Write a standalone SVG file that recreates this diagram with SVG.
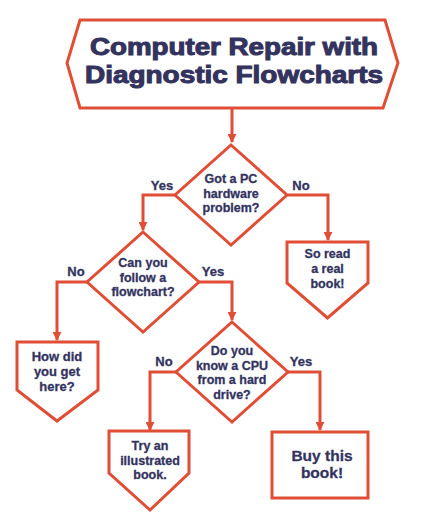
<svg xmlns="http://www.w3.org/2000/svg" width="428" height="518" viewBox="0 0 428 518">
<defs>
<marker id="arr" viewBox="0 0 10 10" refX="9" refY="5" markerWidth="3" markerHeight="3" orient="auto" markerUnits="strokeWidth">
<path d="M0,0 L10,5 L0,10 Z" fill="#E04E36"/>
</marker>
</defs>
<style>
.shape{fill:#fff;stroke:#E04E36;stroke-width:3;stroke-linejoin:miter}
.conn{fill:none;stroke:#E04E36;stroke-width:3;marker-end:url(#arr)}
.t{font-family:"Liberation Sans",Arial,sans-serif;font-weight:bold;fill:#33335E;text-anchor:middle}
.s{font-size:12.5px;stroke:#33335E;stroke-width:0.3}
.l{font-size:13px;stroke:#33335E;stroke-width:0.3}
.title{font-size:23px;stroke:#33335E;stroke-width:1}
</style>
<rect width="428" height="518" fill="#fff"/>
<g id="connectors">
<path class="conn" d="M232,108 V142"/>
<path class="conn" d="M175,195 H143 V230"/>
<path class="conn" d="M288,195 H328 V240"/>
<path class="conn" d="M87,282 H57 V340"/>
<path class="conn" d="M199,282 H232 V320"/>
<path class="conn" d="M176,372 H150 V430"/>
<path class="conn" d="M288,372 H320 V430"/>
</g>
<g id="title">
<polygon class="shape" points="80,20 385,20 398,63 383,108 80,108 67,63"/>
<text class="t title" x="234" y="55" textLength="288" lengthAdjust="spacingAndGlyphs">Computer Repair with</text>
<text class="t title" x="234" y="83" textLength="298" lengthAdjust="spacingAndGlyphs">Diagnostic Flowcharts</text>
</g>
<g id="q1">
<polygon class="shape" points="231,145 287,195 231,245 175,195"/>
<text class="t s" x="231" y="183">Got a PC</text>
<text class="t s" x="231" y="197.5">hardware</text>
<text class="t s" x="231" y="212">problem?</text>
<text class="t l" x="162" y="190">Yes</text>
<text class="t l" x="301" y="190">No</text>
</g>
<g id="q2">
<polygon class="shape" points="143,232 199,282 143,332 87,282"/>
<text class="t s" x="143" y="267">Can you</text>
<text class="t s" x="143" y="281.5">follow a</text>
<text class="t s" x="143" y="296">flowchart?</text>
<text class="t l" x="76" y="276">No</text>
<text class="t l" x="213" y="276">Yes</text>
</g>
<g id="q3">
<polygon class="shape" points="232,322 288,372 232,422 176,372"/>
<text class="t s" x="232" y="355">Do you</text>
<text class="t s" x="232" y="369.5">know a CPU</text>
<text class="t s" x="232" y="384">from a hard</text>
<text class="t s" x="232" y="398.5">drive?</text>
<text class="t l" x="164" y="366">No</text>
<text class="t l" x="301" y="366">Yes</text>
</g>
<g id="readbook">
<polygon class="shape" points="287,242 368,242 368,283 327.5,318 287,283"/>
<text class="t s" x="327.5" y="258">So read</text>
<text class="t s" x="327.5" y="273">a real</text>
<text class="t s" x="327.5" y="288">book!</text>
</g>
<g id="howdid">
<polygon class="shape" points="17,342 98,342 98,390 57,421 17,390"/>
<text class="t l" x="57" y="361">How did</text>
<text class="t l" x="57" y="376">you get</text>
<text class="t l" x="57" y="391">here?</text>
</g>
<g id="illustrated">
<polygon class="shape" points="109,431 189,431 189,473 150,510 109,473"/>
<text class="t s" x="150" y="450">Try an</text>
<text class="t s" x="150" y="464.5">illustrated</text>
<text class="t s" x="150" y="479">book.</text>
</g>
<g id="buybook">
<rect class="shape" x="272" y="432" width="96" height="66"/>
<text class="t" style="font-size:15.5px;stroke:#33335E;stroke-width:0.3" x="322" y="461">Buy this</text>
<text class="t" style="font-size:15.5px;stroke:#33335E;stroke-width:0.3" x="322" y="478">book!</text>
</g>
</svg>
